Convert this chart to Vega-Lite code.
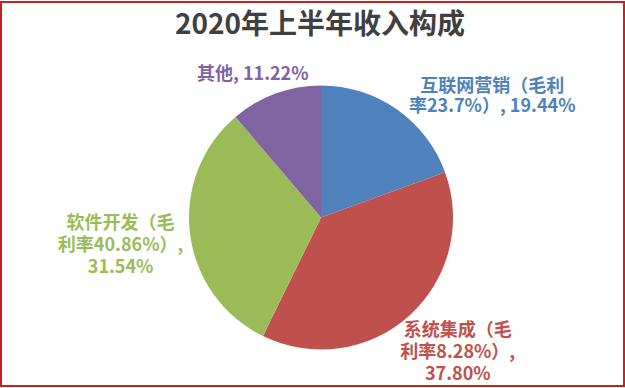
{
  "$schema": "https://vega.github.io/schema/vega-lite/v6.json",
  "width": 625,
  "height": 388,
  "autosize": {"type": "fit", "contains": "padding"},
  "padding": {"left": 0, "top": 0, "right": 0, "bottom": 1},
  "background": "white",
  "config": {
    "view": {"stroke": null},
    "font": "Noto Sans CJK SC"
  },
  "data": {
    "values": [
      {"cat": "互联网营销", "value": 19.44, "order": 1, "label": "互联网营销（毛利\n率23.7%）, 19.44%"},
      {"cat": "系统集成", "value": 37.80, "order": 2, "label": "系统集成（毛\n利率8.28%）,\n37.80%"},
      {"cat": "软件开发", "value": 31.54, "order": 3, "label": "软件开发（毛\n利率40.86%）,\n31.54%"},
      {"cat": "其他", "value": 11.22, "order": 4, "label": "其他, 11.22%"}
    ]
  },
  "layer": [
    {
      "data": {"values": [{"frame": "border"}]},
      "mark": {"type": "rect", "fill": null, "stroke": "#c8201f", "strokeWidth": 2},
      "encoding": {
        "x": {"value": 0},
        "x2": {"value": "width"},
        "y": {"value": 0},
        "y2": {"value": "height"}
      }
    },
    {
      "data": {"values": [{"title": "2020年上半年收入构成"}]},
      "mark": {"type": "text", "x": {"expr": "width/2 + 7.5"}, "y": 24, "fontSize": 28, "fontWeight": "bold", "color": "#404040", "align": "center", "baseline": "middle"},
      "encoding": {"text": {"field": "title"}}
    },
    {
      "mark": {"type": "arc", "radius": 132, "x": {"expr": "width/2 + 8.5"}, "y": {"expr": "height/2 + 23.5"}},
      "encoding": {
        "theta": {"field": "value", "type": "quantitative", "stack": true},
        "order": {"field": "order", "type": "quantitative", "sort": "ascending"},
        "color": {
          "field": "cat",
          "type": "nominal",
          "scale": {
            "domain": ["互联网营销", "系统集成", "软件开发", "其他"],
            "range": ["#4f81bd", "#c0504d", "#9bbb59", "#8064a2"]
          },
          "legend": null
        }
      }
    },
    {
      "mark": {"type": "text", "radius": 180, "dx": 68, "dy": 17, "x": {"expr": "width/2 + 8.5"}, "y": {"expr": "height/2 + 23.5"}, "fontSize": 18, "fontWeight": "bold", "align": "center", "baseline": "middle", "lineBreak": "\n", "lineHeight": 20},
      "encoding": {
        "theta": {"field": "value", "type": "quantitative", "stack": true},
        "order": {"field": "order", "type": "quantitative", "sort": "ascending"},
        "color": {"field": "cat", "type": "nominal", "legend": null},
        "text": {"condition": {"test": "datum.cat === '互联网营销'", "field": "label"}, "value": ""}
      }
    },
    {
      "mark": {"type": "text", "radius": 191, "dx": 9, "dy": -28, "x": {"expr": "width/2 + 8.5"}, "y": {"expr": "height/2 + 23.5"}, "fontSize": 18, "fontWeight": "bold", "align": "center", "baseline": "middle", "lineBreak": "\n", "lineHeight": 22},
      "encoding": {
        "theta": {"field": "value", "type": "quantitative", "stack": true},
        "order": {"field": "order", "type": "quantitative", "sort": "ascending"},
        "color": {"field": "cat", "type": "nominal", "legend": null},
        "text": {"condition": {"test": "datum.cat === '系统集成'", "field": "label"}, "value": ""}
      }
    },
    {
      "mark": {"type": "text", "radius": 204, "dx": 2, "dy": -19, "x": {"expr": "width/2 + 8.5"}, "y": {"expr": "height/2 + 23.5"}, "fontSize": 18, "fontWeight": "bold", "align": "center", "baseline": "middle", "lineBreak": "\n", "lineHeight": 22},
      "encoding": {
        "theta": {"field": "value", "type": "quantitative", "stack": true},
        "order": {"field": "order", "type": "quantitative", "sort": "ascending"},
        "color": {"field": "cat", "type": "nominal", "legend": null},
        "text": {"condition": {"test": "datum.cat === '软件开发'", "field": "label"}, "value": ""}
      }
    },
    {
      "mark": {"type": "text", "radius": 160, "dx": -13, "dy": 8, "x": {"expr": "width/2 + 8.5"}, "y": {"expr": "height/2 + 23.5"}, "fontSize": 18, "fontWeight": "bold", "align": "center", "baseline": "middle"},
      "encoding": {
        "theta": {"field": "value", "type": "quantitative", "stack": true},
        "order": {"field": "order", "type": "quantitative", "sort": "ascending"},
        "color": {"field": "cat", "type": "nominal", "legend": null},
        "text": {"condition": {"test": "datum.cat === '其他'", "field": "label"}, "value": ""}
      }
    }
  ]
}
